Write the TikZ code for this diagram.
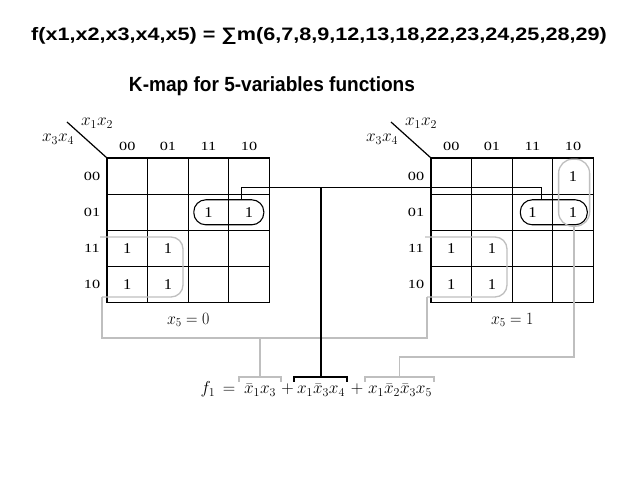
\documentclass[tikz,border=0pt]{standalone}
\usepackage{fontspec}
\setmainfont{Liberation Serif}
\newfontfamily\arialfont{Liberation Sans}
\usetikzlibrary{
    positioning,
    calc,
}
\newcommand{\hs}[2][1.3]{\scalebox{#1}[1]{#2}}

\begin{document}
\begin{tikzpicture}[x=1pt,y=-1pt,
        cell/.style={draw,line width=1.1pt,minimum width=40.6pt,minimum height=36.2pt,inner sep=0pt,outer sep=0pt},
        lbl/.style={font=\fontsize{12.5}{14}\selectfont,inner sep=0pt},
        mlbl/.style={font=\fontsize{17.28}{19}\selectfont,inner sep=0pt},
        one/.style={font=\fontsize{15}{17}\selectfont,inner sep=0pt},
        fml/.style={font=\fontsize{17.28}{19}\selectfont,inner sep=0pt,anchor=base},
        blackloop/.style={draw,line width=1.1pt,rounded corners=12pt,minimum height=25pt,inner sep=0pt},
        grayloop/.style={draw=black!25,line width=1.3pt,rounded corners=14pt,minimum width=31pt,minimum height=67pt,inner sep=0pt},
        grayline/.style={draw=black!25,line width=1.3pt},
        blackline/.style={draw,line width=1.2pt},
    ]
    \useasboundingbox[fill=white] (0,0) rectangle (638,478);

    % titles
    \node[inner sep=0pt,font=\arialfont\bfseries\fontsize{18}{20}\selectfont] (head) at (319,36)
        {\hs[1.2]{f(x1,x2,x3,x4,x5) = ∑m(6,7,8,9,12,13,18,22,23,24,25,28,29)}};
    \node[inner sep=0pt,font=\arialfont\bfseries\fontsize{20.5}{23}\selectfont] (sub) at (272,86)
        {\hs[0.93]{K-map for 5-variables functions}};

    % the two maps
    \foreach \m/\ox in {L/107,R/431}{
        \foreach \r in {0,...,3}
            \foreach \c in {0,...,3}
                \node[cell] (\m\r\c) at ({\ox+40.6*\c+20.3},{158+36.2*\r+18.1}) {};
        \foreach \h [count=\c from 0] in {00,01,11,10}{
            \node[lbl] (\m col\c) at ($(\m0\c.north)+(0,-12)$) {\hs{\h}};
            \node[lbl] (\m row\c) at ($(\m\c0.west)+(-15,0)$) {\hs{\h}};
        }
        \draw[blackline] (\m00.north west) -- ++(-40,-36);
        \node[mlbl] (\m top) at ($(\m00.north west)+(-10,-35)$) {$x_1x_2$};
        \node[mlbl] (\m side) at ($(\m00.north west)+(-49,-19)$) {$x_3x_4$};
        \node[mlbl] (\m var) at ($(\m31.south)!0.5!(\m32.south)+(0,17)$) {};
    }
    \node[mlbl] (x5L) at (Lvar) {\hs[0.92]{$x_5 = 0$}};
    \node[mlbl] (x5R) at (Rvar) {\hs[0.92]{$x_5 = 1$}};

    % ones
    \foreach \n in {L12,L13,L20,L21,L30,L31,R03,R12,R13,R20,R21,R30,R31}
        \node[one] (one\n) at (\n) {\hs[1.1]{1}};

    % groups
    \node[blackloop,minimum width=70pt] (loopL) at ($(L12)!0.5!(L13)$) {};
    \node[blackloop,minimum width=67pt] (loopR) at ($(R12)!0.5!(R13)+(1,0)$) {};
    \node[grayloop] (loopG) at ($(R03)!0.5!(R13)+(1,-1.5)$) {};
    \draw[grayline,rounded corners=12pt] (100,237) -| (183,297) -- (102,297);
    \draw[grayline] (102,297) -- (102,338) -- (427,338) -- (427,297);
    \draw[grayline,rounded corners=12pt] (427,297) -| (507,237) -- (425,237);

    % result
    \node[fml] (f1) at (208,394) {$f_1$};
    \node[fml] (eq) at (229,394) {$=$};
    \node[fml] (t1) at (260,394) {$\bar{x}_1x_3$};
    \node[fml] (p1) at (287.5,394) {$+$};
    \node[fml] (t2) at (321,394) {$x_1\bar{x}_3x_4$};
    \node[fml] (p2) at (357,394) {$+$};
    \node[fml] (t3) at (400,394) {$x_1\bar{x}_2\bar{x}_3x_5$};

    \coordinate (b1) at (260,377);
    \coordinate (b2) at (321,377);
    \coordinate (b3) at (399.5,377);
    \coordinate (jG) at (260,338);
    \coordinate (jB) at (321,188);
    \draw[grayline] ($(b1)+(-21,5)$) -- ++(0,-5) -- ++(42,0) -- ++(0,5);
    \draw[blackline] ($(b2)+(-27,5)$) -- ++(0,-5) -- ++(53,0) -- ++(0,5);
    \draw[grayline] ($(b3)+(-34.5,5)$) -- ++(0,-5) -- ++(69,0) -- ++(0,5);

    % connectors
    \draw[grayline] (jG) -- (b1);
    \draw[blackline] ([xshift=13pt]loopL.north) -- ++(0,-12) -| ([xshift=-12pt]loopR.north);
    \draw[blackline] (jB) -- (b2);
    \draw[grayline] (loopG.south) |- ($(b3)+(0,-20)$) -- (b3);
\end{tikzpicture}
\end{document}
